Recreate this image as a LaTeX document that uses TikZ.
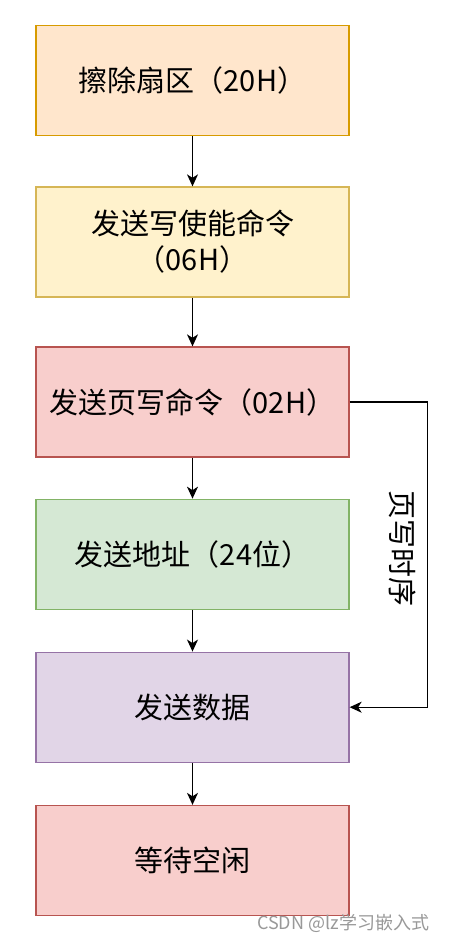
\documentclass[tikz,border=0pt]{standalone}
\usepackage{fontspec}
\setmainfont{Noto Sans CJK SC}
\usetikzlibrary{arrows.meta}
\definecolor{orfill}{HTML}{FFE6CC}\definecolor{ordraw}{HTML}{D79B00}
\definecolor{yefill}{HTML}{FFF2CC}\definecolor{yedraw}{HTML}{D6B656}
\definecolor{refill}{HTML}{F8CECC}\definecolor{redraw}{HTML}{B85450}
\definecolor{grfill}{HTML}{D5E8D4}\definecolor{grdraw}{HTML}{82B366}
\definecolor{pufill}{HTML}{E1D5E7}\definecolor{pudraw}{HTML}{9673A6}
\begin{document}
\begin{tikzpicture}[x=1pt,y=-1pt,
  box/.style={draw, line width=1.3pt, minimum width=313pt, minimum height=110pt,
    inner sep=0pt, align=center, text=black, font=\fontsize{29}{36}\selectfont},
  arr/.style={-{Stealth[length=12pt,width=11pt,inset=3.5pt]}, line width=1.2pt},
  lbl/.style={font=\fontsize{29}{36}\selectfont, text=black}]
\fill[white] (0,0) rectangle (457,943);
\useasboundingbox (0,0) rectangle (457,943);
\node[box, fill=orfill, draw=ordraw] (b1) at (192.5,80.5) {擦除扇区（20H）};
\node[box, fill=yefill, draw=yedraw] (b2) at (192.5,242) {发送写使能命令\\（06H）};
\node[box, fill=refill, draw=redraw] (b3) at (192.5,402) {发送页写命令（02H）};
\node[box, fill=grfill, draw=grdraw] (b4) at (192.5,554.3) {发送地址（24位）};
\node[box, fill=pufill, draw=pudraw] (b5) at (192.5,707.2) {发送数据};
\node[box, fill=refill, draw=redraw] (b6) at (192.5,860.5) {等待空闲};
\draw[arr] (b1) -- (b2);
\draw[arr] (b2) -- (b3);
\draw[arr] (b3) -- (b4);
\draw[arr] (b4) -- (b5);
\draw[arr] (b5) -- (b6);
\draw[arr] (b3.east) -- ++(78,0) |- (b5.east);
\node[lbl, rotate=-90] (lab) at (403,548.5) {页写时序};
\node[anchor=west, text=black!40, font=\fontsize{18}{20}\selectfont, inner sep=0pt] (wm) at (257,923) {CSDN @lz学习嵌入式};
\end{tikzpicture}
\end{document}
